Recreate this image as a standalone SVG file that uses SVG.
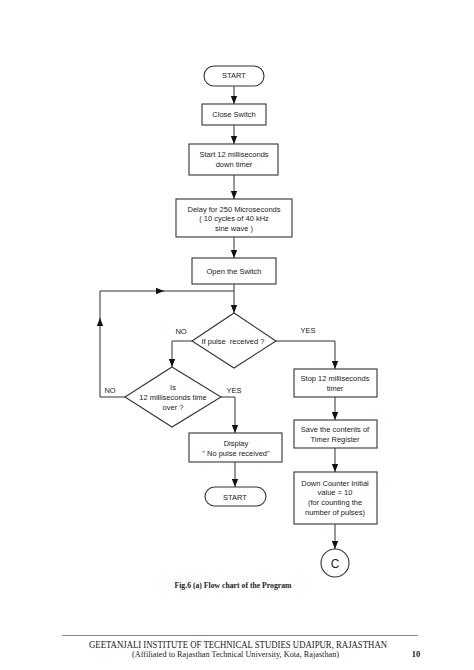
<svg xmlns="http://www.w3.org/2000/svg" width="474" height="670" viewBox="0 0 474 670">
<defs>
<style>
.b{fill:#fff;stroke:#333;stroke-width:1.1}
.t{font-family:"Liberation Sans",Arial,sans-serif;font-size:7.5px;fill:#222;text-anchor:middle}
.c{fill:none;stroke:#333;stroke-width:1}
.f{font-family:"Liberation Serif","Times New Roman",serif;fill:#222;text-anchor:middle}
</style>
<marker id="ah" viewBox="0 0 10 10" refX="10" refY="5" markerWidth="8" markerHeight="8" markerUnits="userSpaceOnUse" orient="auto">
<path d="M0,1 L10,5 L0,9 Z" fill="#111"/>
</marker>
</defs>
<rect width="474" height="670" fill="#fff"/>
<g id="connectors">
<path class="c" d="M234,86 V104" marker-end="url(#ah)"/>
<path class="c" d="M234,125 V144" marker-end="url(#ah)"/>
<path class="c" d="M234,175 V199" marker-end="url(#ah)"/>
<path class="c" d="M234,237 V258" marker-end="url(#ah)"/>
<path class="c" d="M234,284 V313" marker-end="url(#ah)"/>
<path class="c" d="M125,397 H100 V318" marker-end="url(#ah)"/>
<path class="c" d="M100,319 V291 H164" marker-end="url(#ah)"/>
<path class="c" d="M163,291 H234"/>
<path class="c" d="M192,341 H172 V367" marker-end="url(#ah)"/>
<path class="c" d="M276,341 H335 V369" marker-end="url(#ah)"/>
<path class="c" d="M221,397 H235 V433" marker-end="url(#ah)"/>
<path class="c" d="M235,462 V487" marker-end="url(#ah)"/>
<path class="c" d="M335,397 V420" marker-end="url(#ah)"/>
<path class="c" d="M335,448 V472" marker-end="url(#ah)"/>
<path class="c" d="M335,524 V549" marker-end="url(#ah)"/>
</g>
<g id="start1"><rect class="b" x="204" y="66" width="60" height="20" rx="10"/><text class="t" x="234" y="78">START</text></g>
<g id="close"><rect class="b" x="202" y="104" width="64" height="21"/><text class="t" x="234" y="117">Close Switch</text></g>
<g id="timer"><rect class="b" x="189" y="144" width="89" height="31"/><text class="t" x="234" y="157">Start 12 milliseconds</text><text class="t" x="234" y="167">down timer</text></g>
<g id="delay"><rect class="b" x="176" y="199" width="116" height="38"/><text class="t" x="234" y="211.5">Delay for 250 Microseconds</text><text class="t" x="234" y="221">( 10 cycles of 40 kHz</text><text class="t" x="234" y="230.7">sine wave )</text></g>
<g id="open"><rect class="b" x="192" y="258" width="84" height="26"/><text class="t" x="234" y="273.5">Open the Switch</text></g>
<g id="pulse"><polygon class="b" points="234,313 276,341 234,368 192,341"/><text class="t" x="233" y="344" xml:space="preserve">If pulse  received ?</text></g>
<g id="timeover"><polygon class="b" points="172,367 221,397 172,427 125,397"/><text class="t" x="173" y="390">Is</text><text class="t" x="173" y="400">12 milliseconds time</text><text class="t" x="173" y="410">over ?</text></g>
<g id="display"><rect class="b" x="189" y="433" width="93" height="29"/><text class="t" x="236" y="446">Display</text><text class="t" x="236" y="456">" No pulse received"</text></g>
<g id="start2"><rect class="b" x="205" y="487" width="61" height="19" rx="9.5"/><text class="t" x="235" y="500">START</text></g>
<g id="stop"><rect class="b" x="294" y="369" width="83" height="28"/><text class="t" x="335" y="381">Stop 12 milliseconds</text><text class="t" x="335" y="391">timer</text></g>
<g id="save"><rect class="b" x="294" y="420" width="83" height="28"/><text class="t" x="335" y="432">Save the contents of</text><text class="t" x="335" y="442">Timer Register</text></g>
<g id="counter"><rect class="b" x="294" y="472" width="83" height="52"/><text class="t" x="335" y="485.7">Down Counter Initial</text><text class="t" x="335" y="495.4">value = 10</text><text class="t" x="335" y="505">(for counting the</text><text class="t" x="335" y="514.7">number of pulses)</text></g>
<g id="connC"><circle class="b" cx="335" cy="563" r="14"/><text class="t" x="335" y="567.5" style="font-size:12px">C</text></g>
<g id="labels">
<text class="t" x="181" y="333.5">NO</text>
<text class="t" x="308" y="332.5">YES</text>
<text class="t" x="110" y="393">NO</text>
<text class="t" x="234" y="393">YES</text>
</g>
<g id="caption"><text class="f" x="233" y="588" font-size="7.5" font-weight="bold" textLength="117" lengthAdjust="spacingAndGlyphs">Fig.6 (a) Flow chart of the Program</text></g>
<g id="footer">
<line x1="62" y1="635.5" x2="418" y2="635.5" stroke="#888" stroke-width="1"/>
<text class="f" x="238" y="648" font-size="10" textLength="298" lengthAdjust="spacingAndGlyphs">GEETANJALI INSTITUTE OF TECHNICAL STUDIES UDAIPUR, RAJASTHAN</text>
<text class="f" x="235.5" y="657" font-size="8.5" textLength="207" lengthAdjust="spacingAndGlyphs">(Affiliated to Rajasthan Technical University, Kota, Rajasthan)</text>
<text class="f" x="416" y="657" font-size="8.5" font-weight="bold">10</text>
</g>
</svg>
